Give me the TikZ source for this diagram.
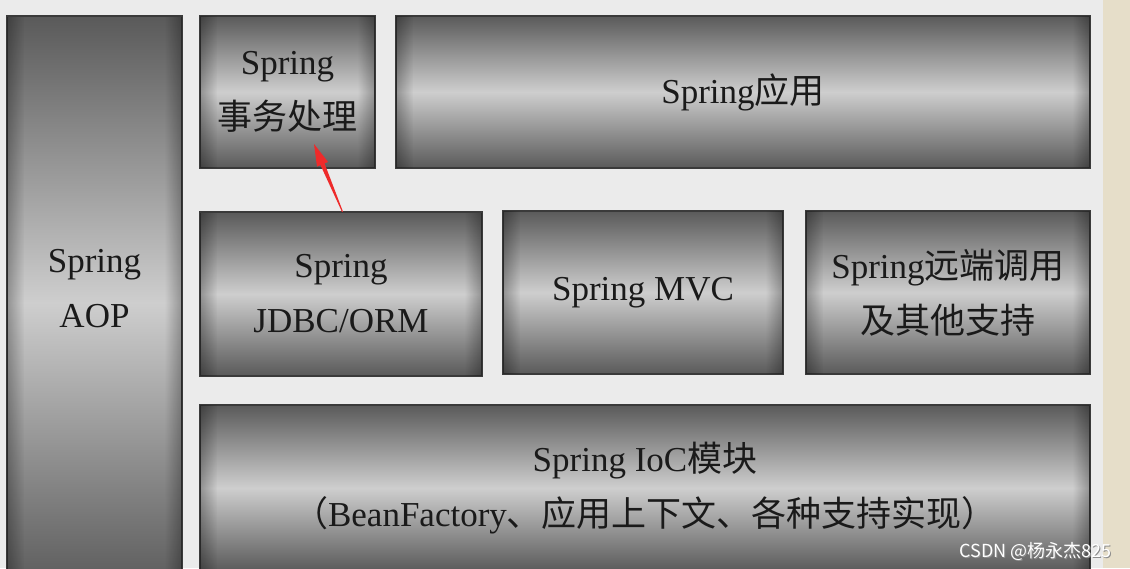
\documentclass[tikz,border=0pt]{standalone}
\usepackage{fontspec}
\setmainfont{Liberation Serif}
\newfontfamily\cjk{Noto Sans CJK SC}
\usetikzlibrary{fadings,arrows.meta,calc}
\definecolor{bg}{HTML}{EBEBEB}
\definecolor{beige}{HTML}{E6DEC9}
\definecolor{gdark}{HTML}{5A5A5A}
\definecolor{glight}{HTML}{CECECE}
\definecolor{edge}{HTML}{3A3A3A}
\definecolor{ink}{HTML}{1A1A1A}
\definecolor{arrred}{HTML}{EE2A2A}
\begin{document}
\begin{tikzpicture}[x=1pt,y=-1pt,
  box/.style={draw=edge,line width=1.4pt,top color=gdark,bottom color=gdark,middle color=glight,
    inner sep=0pt,align=center,text=ink,font=\fontsize{35}{55}\selectfont},
  lbl/.style={align=center,text=ink,font=\fontsize{35}{55}\selectfont}]
\useasboundingbox (0,0) rectangle (1130,568);
\clip (0,0) rectangle (1130,568);
\fill[bg] (0,0) rectangle (1103,568);
\fill[beige] (1103,0) rectangle (1130,568);

\node[box,minimum width=175pt,minimum height=572pt,anchor=north] (aop) at (94.5,16) {};
\node[box,minimum width=175pt,minimum height=152pt] (tx) at (287.5,92) {Spring\\{\cjk 事务处理}};
\node[box,minimum width=694pt,minimum height=152pt] (app) at (743,92) {Spring{\cjk 应用}};
\node[box,minimum width=282pt,minimum height=163pt] (jdbc) at (341,294) {Spring\\JDBC/ORM};
\node[box,minimum width=280pt,minimum height=163pt] (mvc) at (643,292.5) {Spring MVC};
\node[box,minimum width=284pt,minimum height=163pt] (remote) at (948,292.5) {Spring{\cjk 远端调用}\\{\cjk 及其他支持}};
\node[box,minimum width=890pt,minimum height=166pt] (ioc) at (645,488) {Spring IoC{\cjk 模块}\\{\cjk （}BeanFactory{\cjk 、应用上下文、各种支持实现）}};

\foreach \n in {aop,tx,app,jdbc,mvc,remote,ioc}{
  \fill[black,opacity=0.3,path fading=east] (\n.north west) rectangle ([xshift=18pt]\n.south west);
  \fill[black,opacity=0.3,path fading=west] ([xshift=-18pt]\n.north east) rectangle (\n.south east);
  \draw[edge,line width=1.4pt] (\n.north west) rectangle (\n.south east);
}
\node[lbl] (aoptxt) at (94.5,289) {Spring\\AOP};

\coordinate (tail) at ([xshift=1.5pt]jdbc.north);
\coordinate (tip) at (314,144);
\coordinate (hb) at ($(tip)!22pt!(tail)$);
\fill[arrred] (tip) -- ($(hb)!6pt!90:(tip)$) -- ($(hb)!2.2pt!90:(tip)$)
  -- ($(tail)!0.5pt!90:(tip)$) -- ($(tail)!0.5pt!-90:(tip)$)
  -- ($(hb)!2.2pt!-90:(tip)$) -- ($(hb)!6pt!-90:(tip)$) -- cycle;

\node[text=black!45,anchor=base east,font=\cjk\fontsize{18}{18}\selectfont] (wmshadow) at (1116,558) {CSDN @杨永杰825};
\node[text=white,anchor=base east,font=\cjk\fontsize{18}{18}\selectfont] (wm) at (1115,557) {CSDN @杨永杰825};
\end{tikzpicture}
\end{document}
